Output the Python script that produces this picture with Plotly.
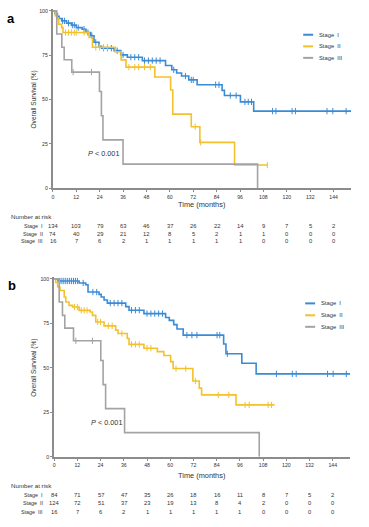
import numpy as np
import plotly.graph_objects as go

W, H = 369, 527

# ---------------- DATA ----------------
months = [0, 12, 24, 36, 48, 60, 72, 84, 96, 108, 120, 132, 144]
y_ticks = [0, 25, 50, 75, 100]
stages = ["Stage I", "Stage II", "Stage III"]

# Panel a
a_I_t = [0, 1.0, 2.0, 3.2, 4.5, 7, 9.5, 12, 15, 17, 19.4, 21.1, 23.7, 25, 31.4, 34.8, 38.2, 45.9, 57.8, 61,
         63.5, 66, 69.7, 74, 86.8, 88, 96.2, 103, 153]
a_I_s = [100, 98.5, 97, 95.7, 94.4, 93.1, 92, 90.6, 89.7, 87.8, 86, 82.3, 80, 79, 77.6, 75.2, 73.9, 72, 69.2, 66.8,
         65, 63.3, 61.1, 58.4, 55.2, 52.3, 48.7, 43.5, 43.5]
a_I_c = [2.5, 5, 6, 8, 10, 11, 13, 16, 18, 20, 22, 26, 28, 30, 33, 36, 40, 42, 44, 47, 49, 51, 53, 55, 62, 68, 71,
         72, 83.5, 85.2, 91, 94, 98.5, 100.2, 101.9, 112.7, 114.4, 122.7, 124.4, 140.6, 143.6, 150.4]

a_II_t = [0, 1.2, 2, 3, 4.5, 5.2, 18.6, 20.3, 32, 35, 37.5, 52.3, 60.4, 61.5, 71, 75.4, 93.2, 110.2]
a_II_s = [100, 97.3, 96, 92.5, 90.6, 87.8, 85, 79.5, 77, 72.4, 68.3, 62.7, 55.4, 41.8, 34.7, 25.9, 13.1, 13.1]
a_II_c = [6.5, 8, 9.5, 11, 12, 16, 22, 24, 26, 28, 39, 42, 44, 47, 50, 73, 75.8, 110]

a_III_t = [0, 2, 4.6, 5.8, 9.7, 23.9, 24.9, 25.7, 36, 105]
a_III_s = [100, 87, 79.5, 72.5, 65.5, 54.6, 40.9, 27.3, 13.6, 0]
a_III_c = [10.4, 19.8]

a_risk_I = [134, 103, 79, 63, 46, 37, 26, 22, 14, 9, 7, 5, 2]
a_risk_II = [74, 40, 29, 21, 12, 8, 5, 2, 1, 1, 0, 0, 0]
a_risk_III = [16, 7, 6, 2, 1, 1, 1, 1, 1, 0, 0, 0, 0]

# Panel b
b_I_t = [0, 2, 12.9, 16.3, 17.5, 23.2, 24.3, 25.8, 27.5, 37, 38.7, 46.4, 57.6, 59.5, 61.8, 63.5, 66.7, 87.6, 88.8,
         97, 104.4, 153]
b_I_s = [100, 98.8, 97.7, 96.7, 92.6, 91.3, 89.8, 88.1, 86.4, 84.4, 82.4, 80.5, 78.3, 76.7, 74.3, 71.8, 68.4, 63.4,
         57.9, 52.6, 46.6, 46.6]
b_I_c = [3, 4, 5, 6, 7, 8, 9, 10, 11, 12, 15, 20, 22, 29, 31, 33, 35, 40, 42, 44, 48, 50, 52, 54, 56, 68.6, 71.2,
         73.8, 84.2, 85.6, 89.5, 114.9, 123.1, 125.1, 141.3, 144.2, 151]

b_II_t = [0, 0.8, 1.8, 3, 5.2, 6, 7.7, 9.5, 12.9, 18.6, 19.8, 21.5, 25.8, 31.8, 33, 37.8, 38.7, 46.4, 53.3, 56.7,
          60.2, 61.5, 71.7, 75, 76.2, 94, 113.9]
b_II_s = [100, 98, 95.4, 93.5, 89.8, 87, 85.1, 84.2, 82.3, 81.4, 79.5, 75.8, 73.6, 71.2, 69.3, 66.5, 63.2, 61, 59.1,
          56.9, 53.5, 49.6, 42.6, 38.6, 34.8, 29.2, 29.2]
b_II_c = [10.5, 12, 14, 15.5, 17, 22.5, 24, 28, 30, 35, 40, 42, 44, 48, 50, 63, 68, 73, 84.8, 90.3, 98.7, 100.8,
          110.6, 112.3]

b_III_t = [0, 2.6, 4.3, 5.5, 10, 24.1, 25.3, 26.6, 36.4, 106]
b_III_s = [100, 87, 79.5, 72.3, 65.2, 54.1, 40.6, 27.1, 13.6, 0]
b_III_c = [11.2, 19.8]

b_risk_I = [84, 71, 57, 47, 35, 26, 18, 16, 11, 8, 7, 5, 2]
b_risk_II = [124, 72, 51, 37, 23, 19, 13, 8, 4, 2, 0, 0, 0]
b_risk_III = [16, 7, 6, 2, 1, 1, 1, 1, 1, 0, 0, 0, 0]

# ---------------- STYLE ----------------
colors = ["#3a8bd6", "#f3c12c", "#a3a3a3"]
axis_col = "#8c8c8c"
txt_col = "#333333"
FONT = "Liberation Sans, Arial, sans-serif"


def px_x(p):
    return p / W


def px_y(p):
    return 1 - p / H


panels = [
    dict(name="a", xa="x", ya="y", x0=52, ppm=1.955, y0=188.7, ppu=1.787,
         curves=[(a_I_t, a_I_s, a_I_c), (a_II_t, a_II_s, a_II_c), (a_III_t, a_III_s, a_III_c)],
         risk=[a_risk_I, a_risk_II, a_risk_III],
         title_y=205.3, nar_y=216.7, rows=[227, 234.7, 242.3],
         leg_x=303, leg_y=[34, 45.7, 57.3], letter=(10, 18), p=(17, 19.4)),
    dict(name="b", xa="x2", ya="y2", x0=53.3, ppm=1.940, y0=459.3, ppu=1.793,
         curves=[(b_I_t, b_I_s, b_I_c), (b_II_t, b_II_s, b_II_c), (b_III_t, b_III_s, b_III_c)],
         risk=[b_risk_I, b_risk_II, b_risk_III],
         title_y=477.7, nar_y=488.3, rows=[497.3, 506.3, 515],
         leg_x=305, leg_y=[304.7, 316.7, 328.3], letter=(11, 287), p=(18, 19.1)),
]

XMAX, YMAX = 153, 101

fig = go.Figure()
annotations = []
shapes = []


def ann(**kw):
    kw.setdefault("showarrow", False)
    kw.setdefault("xanchor", "center")
    kw.setdefault("yanchor", "middle")
    annotations.append(kw)


for pi, P in enumerate(panels):
    for ci, (t, s, c) in enumerate(P["curves"]):
        fig.add_trace(go.Scatter(x=t, y=s, mode="lines", line=dict(color=colors[ci], width=1.6, shape="hv"),
                                 xaxis=P["xa"], yaxis=P["ya"], hoverinfo="skip"))
        ta = np.array(t)
        sa = np.array(s)
        idx = np.searchsorted(ta, np.array(c), side="right") - 1
        fig.add_trace(go.Scatter(x=c, y=sa[idx], mode="markers",
                                 marker=dict(symbol="line-ns-open", size=4.5, color=colors[ci],
                                             line=dict(color=colors[ci], width=1)),
                                 xaxis=P["xa"], yaxis=P["ya"], hoverinfo="skip"))

    ax_key = "xaxis" if P["xa"] == "x" else "xaxis2"
    ay_key = "yaxis" if P["ya"] == "y" else "yaxis2"
    x_end = P["x0"] + XMAX * P["ppm"]
    y_top = P["y0"] - YMAX * P["ppu"]
    fig.update_layout({
        ax_key: dict(domain=[px_x(P["x0"]), px_x(x_end)], range=[0, XMAX], anchor=P["ya"],
                     tickvals=months, ticktext=[str(m) for m in months], ticks="outside", ticklen=2,
                     tickcolor=axis_col, tickwidth=1, showline=True, linecolor=axis_col, linewidth=2,
                     showgrid=False, zeroline=False, tickfont=dict(size=5.2, color=txt_col, family=FONT)),
        ay_key: dict(domain=[px_y(P["y0"]), px_y(y_top)], range=[0, YMAX], anchor=P["xa"],
                     tickvals=y_ticks, ticks="outside", ticklen=2, tickcolor=axis_col, tickwidth=1,
                     showline=True, linecolor=axis_col, linewidth=2, showgrid=False, zeroline=False,
                     tickfont=dict(size=5.2, color=txt_col, family=FONT)),
    })

    # y title
    ann(x=px_x(33), y=px_y(P["y0"] - 50 * P["ppu"]), xref="paper", yref="paper",
        text="Overall Survival (%)", textangle=-90, font=dict(size=6.6, color=txt_col, family=FONT))
    # x title
    ann(x=px_x(201.5), y=px_y(P["title_y"]), xref="paper", yref="paper", text="Time (months)",
        font=dict(size=7.4, color=txt_col, family=FONT))
    # panel letter
    ann(x=px_x(P["letter"][0]), y=px_y(P["letter"][1]), xref="paper", yref="paper",
        text="<b>" + P["name"] + "</b>", font=dict(size=13, color="#000000", family=FONT))
    # p value
    ann(x=P["p"][0], y=P["p"][1], xref=P["xa"], yref=P["ya"], text="<i>P</i> < 0.001", xanchor="left",
        font=dict(size=7.3, color=txt_col, family=FONT))
    # number at risk
    ann(x=px_x(8), y=px_y(P["nar_y"]), xref="paper", yref="paper", text="Number at risk", xanchor="left",
        font=dict(size=6.2, color=txt_col, family=FONT))
    for ri, row in enumerate(P["risk"]):
        yy = px_y(P["rows"][ri])
        ann(x=px_x(44), y=yy, xref="paper", yref="paper", text=stages[ri].replace(" ", "\u00a0\u00a0"),
            xanchor="right", font=dict(size=5.4, color=txt_col, family=FONT))
        for mi, m in enumerate(months):
            ann(x=m, y=yy, xref=P["xa"], yref="paper", text=str(row[mi]),
                font=dict(size=5.8, color=txt_col, family=FONT))
    # legend
    for li in range(3):
        yy = px_y(P["leg_y"][li])
        shapes.append(dict(type="line", xref="paper", yref="paper", x0=px_x(P["leg_x"]), x1=px_x(P["leg_x"] + 10),
                           y0=yy, y1=yy, line=dict(color=colors[li], width=2)))
        ann(x=px_x(P["leg_x"] + 13.5), y=yy, xref="paper", yref="paper",
            text=stages[li].replace(" ", "\u00a0\u00a0"), xanchor="left",
            font=dict(size=5.8, color=txt_col, family=FONT))

fig.update_layout(width=W, height=H, margin=dict(l=0, r=0, t=0, b=0), showlegend=False,
                  plot_bgcolor="white", paper_bgcolor="white", annotations=annotations, shapes=shapes,
                  font=dict(family=FONT))

fig.write_html("out.html", config={"displayModeBar": False},
               post_script="document.body.style.margin='0';document.body.style.padding='0';"
                           "document.documentElement.style.overflow='hidden';")
